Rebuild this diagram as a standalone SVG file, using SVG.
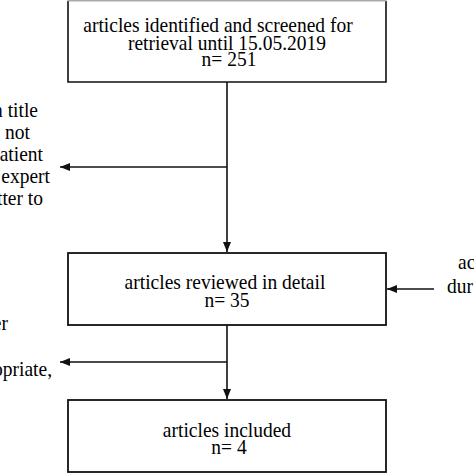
<svg xmlns="http://www.w3.org/2000/svg" width="474" height="474" viewBox="0 0 474 474">
<style>
.box{fill:#fff;stroke:#111;stroke-width:1.8}
.ln{fill:none;stroke:#111;stroke-width:1.6}
text{font-family:"Liberation Serif","Times New Roman",serif;font-size:19.5px;fill:#000}
.c{text-anchor:middle}
.e{text-anchor:end}
</style>
<defs>
<marker id="ah" viewBox="0 0 10 8" refX="10" refY="4" markerWidth="10" markerHeight="8" markerUnits="userSpaceOnUse" orient="auto">
<path d="M0,0 L10,4 L0,8 Z" fill="#111"/>
</marker>
</defs>
<rect width="474" height="474" fill="#fff"/>
<g id="connectors">
<line class="ln" x1="227" y1="82" x2="227" y2="252" marker-end="url(#ah)"/>
<line class="ln" x1="227" y1="167" x2="60" y2="167" marker-end="url(#ah)"/>
<line class="ln" x1="227" y1="325" x2="227" y2="399" marker-end="url(#ah)"/>
<line class="ln" x1="227" y1="362" x2="60" y2="362" marker-end="url(#ah)"/>
<line class="ln" x1="434" y1="289" x2="387" y2="289" marker-end="url(#ah)"/>
</g>
<g id="box1">
<rect x="68" y="-2" width="318" height="84" fill="#fff"/>
<path d="M68,0.8 V82 H386 V0.8" class="ln" stroke-width="1.8"/>
<line x1="68" y1="0.8" x2="386" y2="0.8" stroke="#aaa" stroke-width="1.6"/>
<text class="c" transform="matrix(1 0 0 1.1 0 32)" x="218" y="0">articles identified and screened for</text>
<text class="c" transform="matrix(1 0 0 1.1 0 50)" x="227" y="0">retrieval until 15.05.2019</text>
<text class="c" transform="matrix(1 0 0 1.1 0 66)" x="229" y="0">n= 251</text>
</g>
<g id="excluded1">
<text class="e" transform="matrix(1 0 0 1.1 0 117)" x="38" y="0">n title</text>
<text class="e" transform="matrix(1 0 0 1.1 0 139)" x="30" y="0">not</text>
<text class="e" transform="matrix(1 0 0 1.1 0 161)" x="43" y="0">atient</text>
<text class="e" transform="matrix(1 0 0 1.1 0 183)" x="50" y="0">expert</text>
<text class="e" transform="matrix(1 0 0 1.1 0 205)" x="43" y="0">tter to</text>
</g>
<g id="box2">
<rect class="box" x="68" y="253" width="318" height="72"/>
<text class="c" transform="matrix(1 0 0 1.1 0 289)" x="225" y="0">articles reviewed in detail</text>
<text class="c" transform="matrix(1 0 0 1.1 0 307)" x="227" y="0">n= 35</text>
</g>
<g id="added">
<text transform="matrix(1 0 0 1.1 0 269)" x="458" y="0">ac</text>
<text transform="matrix(1 0 0 1.1 0 293)" x="447" y="0">dur</text>
</g>
<g id="excluded2">
<text class="e" transform="matrix(1 0 0 1.1 0 330)" x="8" y="0">er</text>
<text class="e" transform="matrix(1 0 0 1.1 0 376)" x="52" y="0">opriate,</text>
</g>
<g id="box3">
<rect class="box" x="68" y="400" width="318" height="72"/>
<text class="c" transform="matrix(1 0 0 1.1 0 437)" x="227" y="0">articles included</text>
<text class="c" transform="matrix(1 0 0 1.1 0 454)" x="229" y="0">n= 4</text>
</g>
</svg>
